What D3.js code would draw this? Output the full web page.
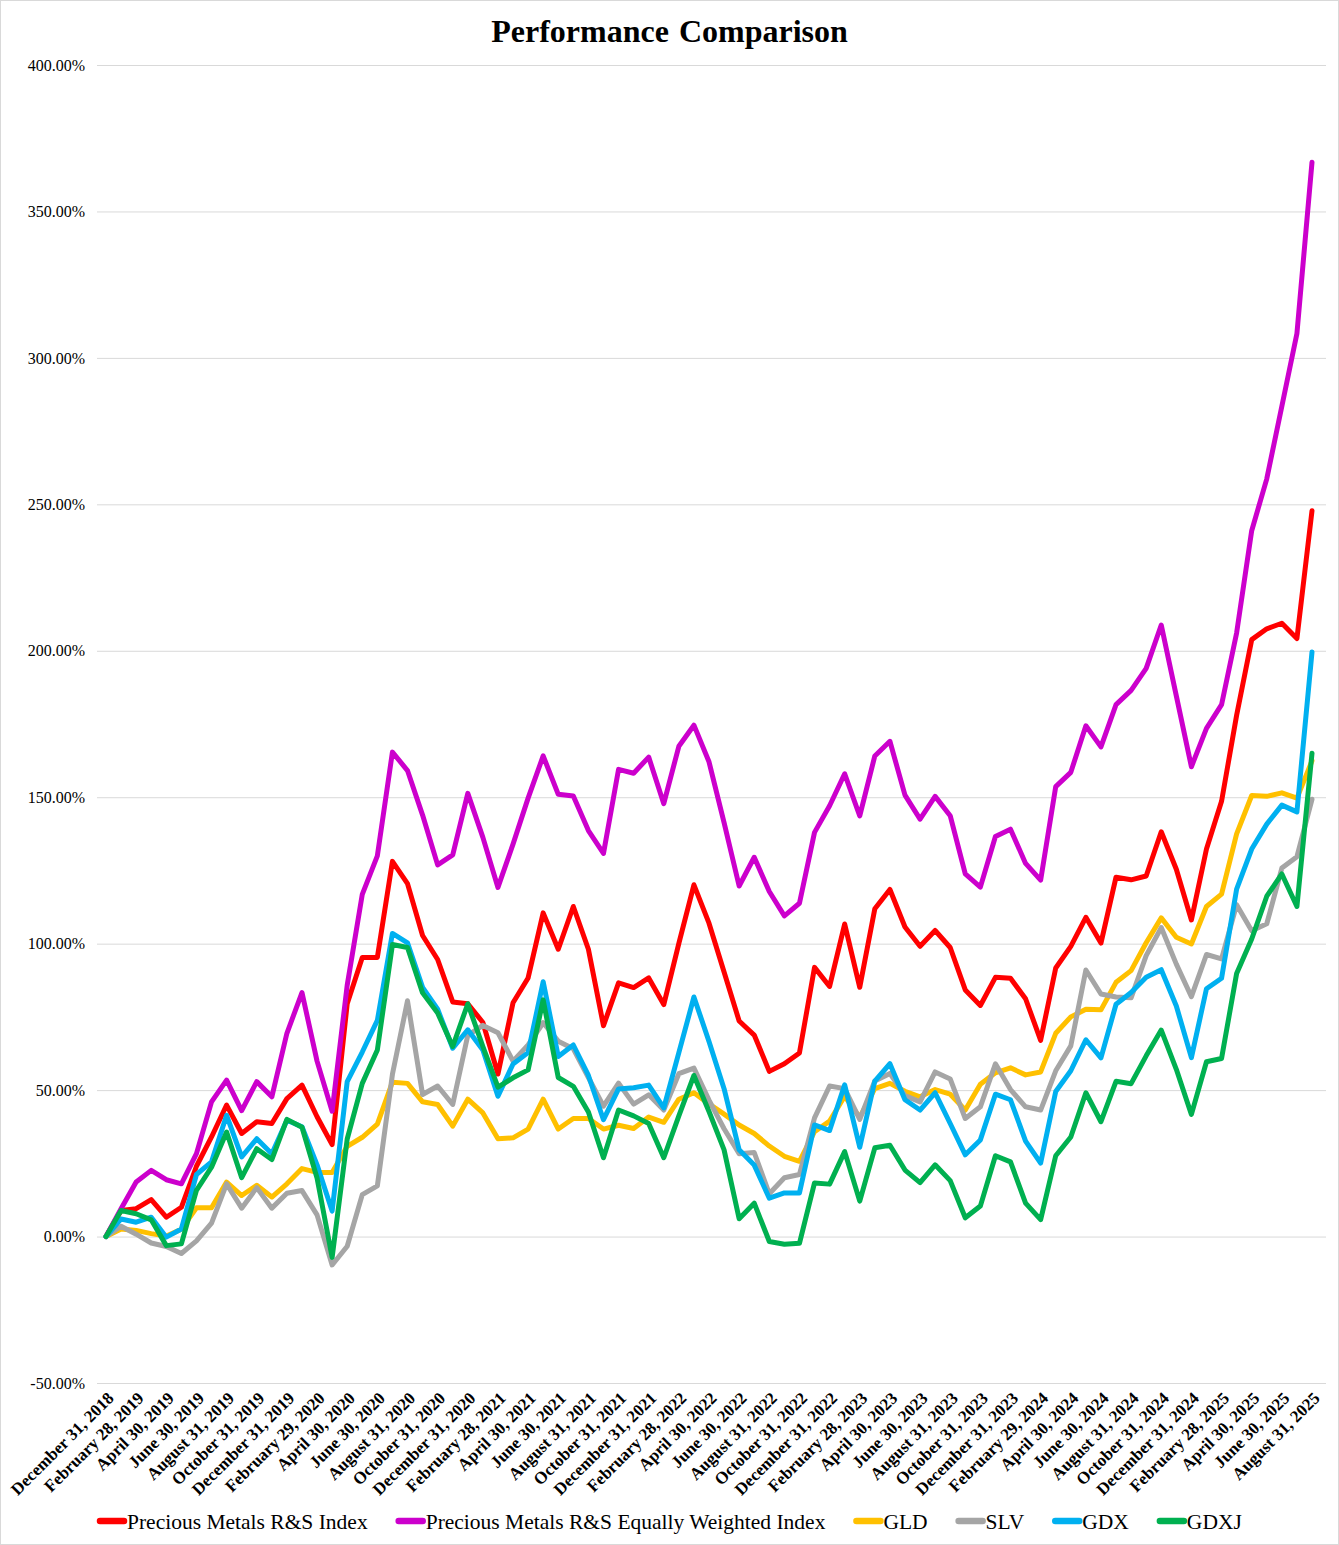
<!DOCTYPE html>
<html>
<head>
<meta charset="utf-8">
<script src="https://d3js.org/d3.v7.min.js"></script>
<style>
  body { margin: 0; background: #fff; }
  svg { display: block; }
  text { font-family: "Liberation Serif", "Times New Roman", serif; }
</style>
</head>
<body>
<div id="chart-area"></div>
<script>
  // Month-end dates, Dec 31 2018 .. Aug 31 2025 (one category per month)
  var categories = d3.utcMonth.range(new Date(Date.UTC(2019, 0, 1)), new Date(Date.UTC(2025, 8, 2)))
      .map(function (d) { return d3.utcFormat('%B %-d, %Y')(new Date(d - 864e5)); });

  var yTicks = [-50, 0, 50, 100, 150, 200, 250, 300, 350, 400];

  var seriesNames = ['Precious Metals R&S Index', 'Precious Metals R&S Equally Weighted Index', 'GLD', 'SLV', 'GDX', 'GDXJ'];
  var seriesColors = ['#ff0000', '#cc00cc', '#ffc000', '#a5a5a5', '#00b0f0', '#00b050'];

  // cumulative performance, %
  var pmIndex = [0, 8.9, 9.5, 12.6, 6.6, 10, 24, 34, 44.9, 35.2, 39.2, 38.6, 47.1, 51.7,
    40.9, 31.4, 79.5, 95.3, 95.3, 128.1, 120.5, 102.8, 94.6, 80.1, 79.5, 73.1, 55.5,
    79.8, 88.3, 110.5, 98.1, 112.7, 98.1, 72, 86.6, 85, 88.3, 79.2, 100.1, 120.1,
    107, 90.3, 73.6, 68.8, 56.4, 59, 62.7, 91.9, 85.4, 106.7, 85.1, 111.9, 118.5,
    105.7, 99.1, 104.5, 98.7, 84.2, 78.9, 88.5, 88.2, 81.2, 67, 91.7, 99.1, 109,
    100.2, 122.7, 121.8, 123.1, 138.2, 125.4, 108.1, 132.3, 148.6, 178,
    203.8, 207.5, 209.4, 204.2, 247.8];
  var pmEqual = [0, 9.5, 18.6, 22.6, 19.4, 18, 28.3, 46, 53.4, 43, 52.9, 47.7, 69.4, 83.3,
    59.9, 42.8, 85.8, 116.8, 130, 165.4, 159.1, 143.9, 126.9, 130.3, 151.3, 136.3, 119.2,
    134, 149.7, 164.1, 151, 150.4, 138.6, 130.8, 159.5, 158.2, 163.7, 147.8, 167.4, 174.6,
    162.1, 141.3, 119.7, 129.5, 117.8, 109.5, 113.8, 138, 147.1, 158, 143.6, 164.1, 169.1,
    150.7, 142.5, 150.3, 143.7, 123.8, 119.3, 136.6, 139.1, 127.4, 121.7, 153.6, 158.5, 174.4,
    167.2, 181.6, 186.5, 194, 208.8, 184.6, 160.4, 173.5, 181.6, 206.1,
    241, 258.7, 283.5, 308.3, 366.8];
  var gld = [0, 2.6, 2.1, 1.0, 0.2, 2.5, 9.8, 9.8, 18.6, 14, 17.5, 13.5, 18, 23.2,
    21.9, 21.9, 30.8, 33.9, 38.4, 52.7, 52.3, 46, 45.1, 37.7, 46.9, 42.2, 33.4,
    33.7, 36.7, 46.9, 36.7, 40.3, 40.3, 36.7, 38, 36.9, 40.8, 39, 46.9, 49.1,
    45.3, 41.8, 38.1, 35.2, 30.9, 27.4, 25.7, 35.8, 39.4, 47.9, 40.7, 50.5, 52.3,
    49.6, 47.7, 50.2, 48.6, 43.2, 52, 55.9, 57.6, 55.2, 56.2, 69.4, 75, 77.6,
    77.4, 86.8, 90.8, 100.3, 108.8, 102.2, 99.9, 112.7, 116.9, 137.5,
    150.6, 150.3, 151.5, 149.7, 162.4];
  var slv = [0, 3.5, 0.8, -2.2, -3.4, -5.8, -1.5, 4.6, 18, 9.7, 16.7, 9.7, 14.8, 15.7,
    7.4, -9.7, -3.3, 14.3, 17.3, 55.4, 80.5, 48.5, 51.4, 45.1, 68.7, 72.1, 69.6,
    59.9, 65.4, 73, 66.7, 64.1, 54.3, 44.5, 52.4, 45.2, 48.4, 43.2, 55.6, 57.5,
    46.6, 36.8, 28.3, 28.7, 14.6, 20.1, 21.2, 40.5, 51.4, 50.5, 40, 53.1, 55.7,
    48.1, 46, 56.2, 53.8, 40.3, 44.3, 59, 50.2, 44.3, 43.2, 56.6, 65.1, 91,
    82.8, 81.8, 81.5, 95.9, 105.5, 93, 81.9, 96.3, 94.8, 113.3,
    104.4, 106.8, 125.8, 129.7, 149.3];
  var gdx = [0, 6, 4.9, 6.6, -0.2, 2.6, 21.2, 25.5, 41.4, 27.2, 33.4, 28.3, 39.7, 37.5,
    24.5, 8.7, 52.9, 63, 73.8, 103.5, 100.3, 85.1, 77.6, 64.3, 70.6, 63.7, 47.9,
    58.9, 62.8, 87, 61.5, 65.4, 55, 39.9, 50.4, 50.8, 51.7, 43.9, 62.8, 81.8,
    66.6, 50.5, 29.6, 24.4, 13.1, 14.9, 14.9, 38.1, 36.2, 51.8, 30.5, 53.1, 59,
    46.7, 43.2, 49.1, 38.6, 27.9, 33, 48.6, 46.7, 32.6, 25.1, 49.5, 56.6, 67.2,
    61, 79.3, 83.3, 88.5, 91.1, 78.7, 61.1, 84.6, 88.2, 118.6,
    132.3, 140.8, 147.3, 145, 199.6];
  var gdxj = [0, 8.9, 7.8, 5.7, -3.1, -2.5, 15.8, 23.7, 35.7, 20.1, 30, 26.3, 40, 37.3,
    20, -7.1, 33.3, 52.3, 63.7, 99.7, 98.7, 83.2, 76.3, 64.9, 79.5, 64.9, 51,
    54.2, 56.9, 80.8, 54.3, 51.3, 42.5, 26.9, 43.2, 41.2, 38.6, 26.9, 41.2, 55,
    42.7, 29.6, 6.1, 11.4, -1.7, -2.6, -2.3, 18.3, 17.9, 29, 12.1, 30.3, 31.2,
    22.7, 18.4, 24.5, 19.1, 6.4, 10.4, 27.6, 25.5, 11.4, 5.8, 27.6, 34, 49.1,
    39.2, 53, 52.2, 61.7, 70.5, 57.1, 41.7, 59.7, 60.8, 89.8,
    101.6, 116.2, 123.8, 112.7, 165];

  var seriesValues = [pmIndex, pmEqual, gld, slv, gdx, gdxj];

  var W = 1339, H = 1545;
  var svg = d3.select('#chart-area').append('svg')
      .attr('width', W)
      .attr('height', H);

  svg.append('rect')
      .attr('x', 0.5).attr('y', 0.5)
      .attr('width', W - 1).attr('height', H - 1)
      .attr('fill', '#fff')
      .attr('stroke', '#d9d9d9');

  // Scales
  var gridLeft = 97, gridRight = 1326;
  var x = d3.scalePoint()
      .domain(categories)
      .range([106, 1312]);
  var y = d3.scaleLinear()
      .domain([-50, 400])
      .range([1383, 65]);

  // Title
  svg.append('text')
      .attr('x', W / 2)
      .attr('y', 42)
      .attr('text-anchor', 'middle')
      .attr('font-size', '32px')
      .attr('font-weight', 'bold')
      .attr('word-spacing', '2px')
      .text('Performance Comparison');

  // Y axis with gridlines
  var yAxis = svg.append('g')
      .attr('transform', 'translate(' + gridLeft + ',0)')
      .call(d3.axisLeft(y)
          .tickValues(yTicks)
          .tickSize(-(gridRight - gridLeft))
          .tickPadding(12)
          .tickFormat(function (d) { return d.toFixed(2) + '%'; }));
  yAxis.select('.domain').remove();
  yAxis.selectAll('line').attr('stroke', '#d9d9d9').attr('stroke-width', 1);
  yAxis.selectAll('text')
      .attr('font-family', '"Liberation Serif", serif')
      .attr('font-size', '16px')
      .attr('fill', '#000');

  // X axis, rotated labels every other month
  var xAxis = svg.append('g')
      .attr('transform', 'translate(0,' + y(-50) + ')')
      .call(d3.axisBottom(x)
          .tickValues(categories.filter(function (d, i) { return i % 2 === 0; }))
          .tickSize(0));
  xAxis.select('.domain').remove();
  xAxis.selectAll('text')
      .attr('font-family', '"Liberation Serif", serif')
      .attr('font-size', '17px')
      .attr('font-weight', 'bold')
      .attr('fill', '#000')
      .attr('x', 0).attr('y', 0).attr('dy', '0.35em')
      .attr('text-anchor', 'end')
      .attr('transform', 'translate(4,12) rotate(-45)');

  // Lines
  var line = d3.line()
      .x(function (d, i) { return x(categories[i]); })
      .y(function (d) { return y(d); });

  seriesValues.forEach(function (vals, k) {
    svg.append('path')
        .attr('fill', 'none')
        .attr('stroke', seriesColors[k])
        .attr('stroke-width', 5)
        .attr('stroke-linejoin', 'round')
        .attr('stroke-linecap', 'round')
        .attr('d', line(vals));
  });

  // Legend
  var legend = svg.append('g').attr('transform', 'translate(0,1521)');
  var lx = 97;
  seriesNames.forEach(function (name, k) {
    legend.append('line')
        .attr('x1', lx + 3).attr('x2', lx + 27)
        .attr('y1', 0).attr('y2', 0)
        .attr('stroke', seriesColors[k])
        .attr('stroke-width', 6.5)
        .attr('stroke-linecap', 'round');
    var t = legend.append('text')
        .attr('x', lx + 30)
        .attr('y', 0)
        .attr('dy', '0.35em')
        .attr('font-size', '21.5px')
        .text(name);
    lx += 30 + t.node().getComputedTextLength() + 28;
  });
</script>
</body>
</html>
